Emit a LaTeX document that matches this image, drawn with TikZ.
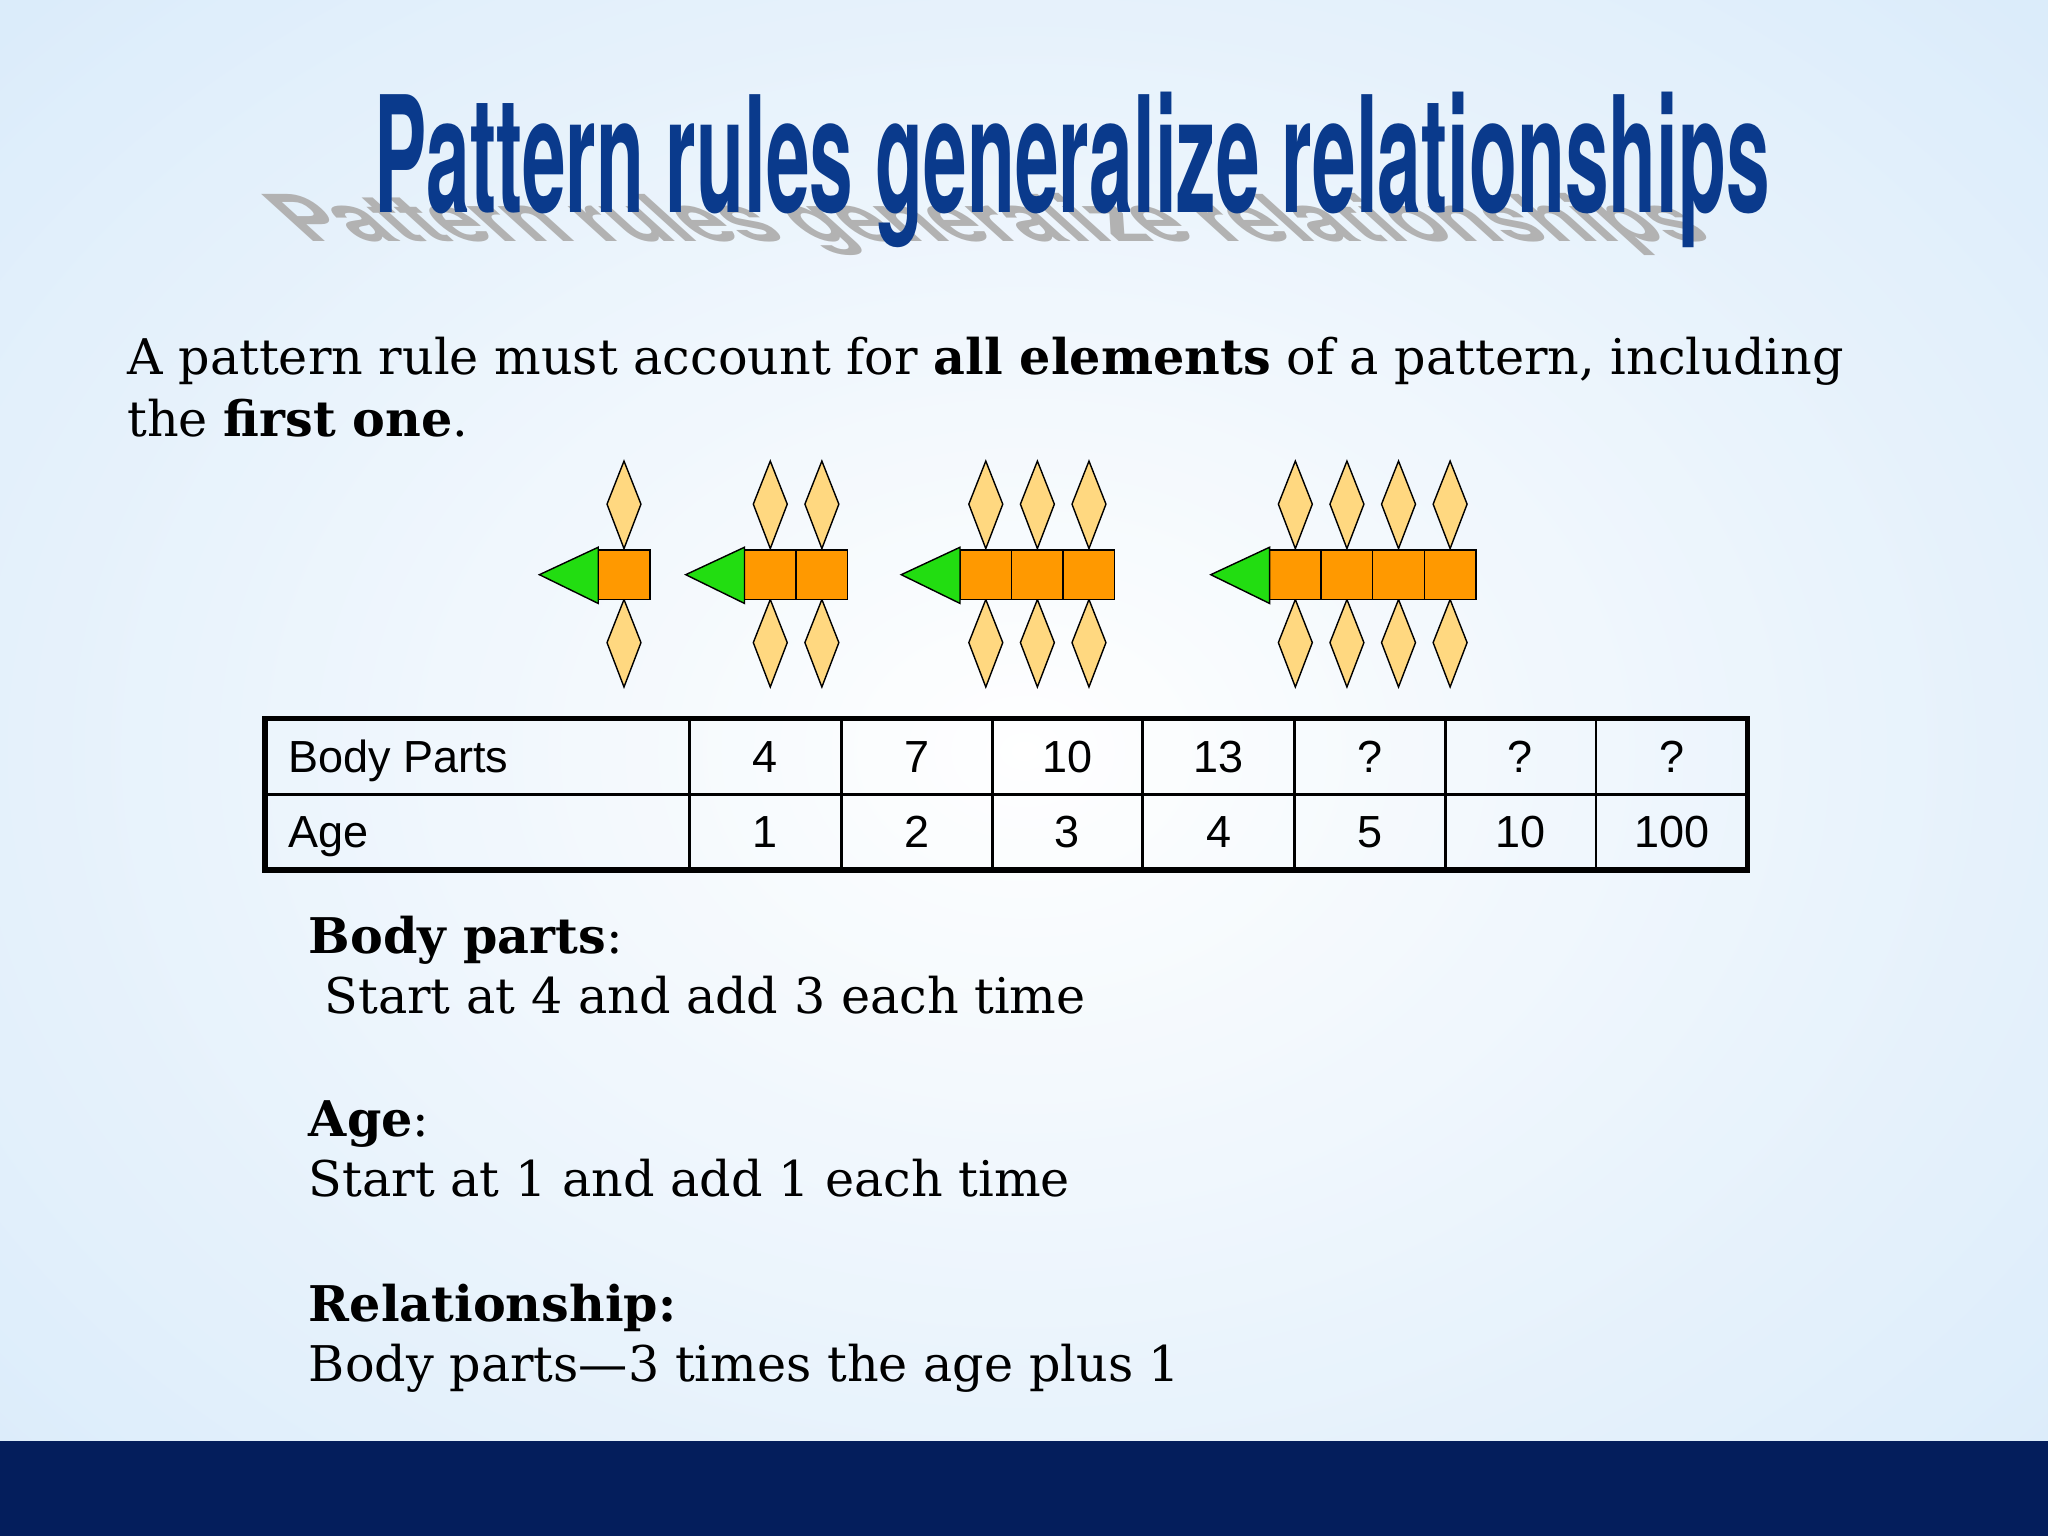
\documentclass[tikz,border=0pt]{standalone}
\usepackage{fontspec}
\setmainfont{DejaVu Serif}
\newfontfamily\tabfont{Liberation Sans}
\newfontfamily\titlefont{TeX Gyre Heros}
\definecolor{navy}{HTML}{041E5C}
\definecolor{titleblue}{HTML}{0A3A8C}
\definecolor{sq}{HTML}{FF9900}
\definecolor{tri}{HTML}{22DD11}
\definecolor{dia}{HTML}{FFD880}
\definecolor{bgblue}{HTML}{C8E2F8}
\tikzset{body/.style={anchor=base west,inner sep=0pt,font=\fontsize{14}{16}\selectfont},
tab/.style={font=\tabfont\fontsize{12.8}{14}\selectfont,inner sep=0pt,text height=1.6ex,text depth=0pt}}
\begin{document}
\begin{tikzpicture}[x=0.013061cm,y=-0.013061cm]
\useasboundingbox (0,0) rectangle (1568,1176);
\shade[inner color=white,outer color=bgblue] (-300,-250) rectangle (1868,1400);
\fill[white,opacity=0.35] (0,0) rectangle (1568,1176);
\fill[navy] (0,1103) rectangle (1568,1176);
% title shadow
\node[text=gray!60,font=\titlefont\bfseries\fontsize{46}{50}\selectfont,xscale=0.49,yscale=0.4,xslant=-0.9,inner sep=0pt,anchor=base] (tsh) at (775,185) {Pattern rules generalize relationships};
\node[text=titleblue,font=\titlefont\bfseries\fontsize{46}{50}\selectfont,xscale=0.485,inner sep=0pt,anchor=base] (title) at (821,163) {Pattern rules generalize relationships};
% intro text
\node[body] (l1) at (97,287) {A pattern rule must account for \textbf{all elements} of a pattern, including};
\node[body] (l2) at (97,334) {the \textbf{first one}.};
% bugs
\foreach \tip/\n in {413/1,525/2,690/3,927/4}{
  \pgfmathsetmacro{\bs}{\tip+45}
  \foreach \i in {1,...,\n}{
    \pgfmathsetmacro{\xa}{\bs+(\i-1)*39.5}
    \pgfmathsetmacro{\cx}{\xa+19.75}
    \draw[fill=dia] (\cx,353)--(\cx+13,386)--(\cx,420)--(\cx-13,386)--cycle;
    \draw[fill=dia] (\cx,459)--(\cx+13,492)--(\cx,526)--(\cx-13,492)--cycle;
    \draw[fill=sq] (\xa,421) rectangle (\xa+39.5,459);
  }
  \draw[fill=tri] (\tip,440)--(\bs,419)--(\bs,462)--cycle;
}
% table
\draw[line width=0.8pt] (203,608)--(1338,608);
\foreach \x in {528,644,760,875,991,1107,1222} \draw[line width=0.8pt] (\x,550)--(\x,666);
\draw[line width=1.6pt] (203,550) rectangle (1338,666);
\node[tab,anchor=west] (bp) at (220,580) {Body Parts};
\node[tab,anchor=west] (ag) at (220,638) {Age};
\foreach \c/\a/\b in {586/4/1,702/7/2,817/10/3,933/13/4,1049/?/5,1164/?/10,1280/?/100}{
  \node[tab] at (\c,580) {\a};
  \node[tab] at (\c,638) {\b};
}
% rules
\node[body] (r1) at (236,730) {\textbf{Body parts}:};
\node[body] (r2) at (248,776) {Start at 4 and add 3 each time};
\node[body] (r3) at (236,870) {\textbf{Age}:};
\node[body] (r4) at (236,916) {Start at 1 and add 1 each time};
\node[body] (r5) at (236,1012) {\textbf{Relationship:}};
\node[body] (r6) at (236,1058) {Body parts—3 times the age plus 1};
\end{tikzpicture}
\end{document}
